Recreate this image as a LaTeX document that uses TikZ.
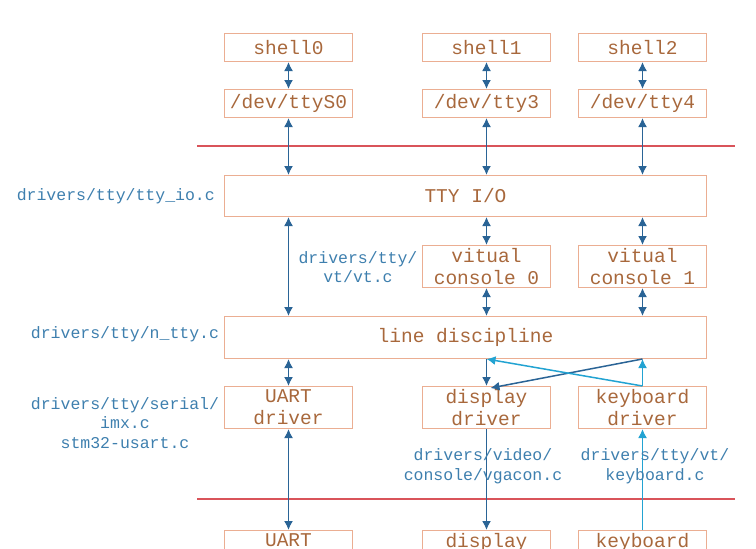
\documentclass[tikz,border=0pt]{standalone}
\usepackage{fontspec}
\setmonofont{Liberation Mono}
\usetikzlibrary{arrows.meta}
\begin{document}
\begin{tikzpicture}[x=1pt,y=-1pt,
  box/.style={draw=boxc,line width=1pt,text=txtc,font=\ttfamily\fontsize{19.5}{22}\selectfont,inner sep=0pt,align=center,anchor=north west},
  lbl/.style={text=lblc,font=\ttfamily\fontsize{16.5}{19.5}\selectfont,align=center,inner sep=0pt},
  dk/.style={draw=dkc,line width=1.5pt,-{Latex[length=9pt,width=9pt]}},
  dd/.style={draw=dkc,line width=1.5pt,{Latex[length=9pt,width=9pt]}-{Latex[length=9pt,width=9pt]}},
  lt/.style={draw=ltc,line width=1.5pt,-{Latex[length=9pt,width=9pt]}},
  redl/.style={draw=redc,line width=1.5pt}]
\definecolor{boxc}{HTML}{EBAE92}
\definecolor{txtc}{HTML}{A8683C}
\definecolor{lblc}{HTML}{3E7FAE}
\definecolor{dkc}{HTML}{2A6496}
\definecolor{ltc}{HTML}{22A3D2}
\definecolor{redc}{HTML}{D9545A}
\useasboundingbox (0,0) rectangle (756,549);
\begin{scope}
\clip (0,0) rectangle (756,549);
\node[box,minimum width=128pt,minimum height=28pt] (s0) at (224,33) {shell0};
\node[box,minimum width=128pt,minimum height=28pt] (s1) at (422,33) {shell1};
\node[box,minimum width=128pt,minimum height=28pt] (s2) at (578,33) {shell2};
\node[box,minimum width=128pt,minimum height=28pt] (d0) at (224,89) {/dev/ttyS0};
\node[box,minimum width=128pt,minimum height=28pt] (d1) at (422,89) {/dev/tty3};
\node[box,minimum width=128pt,minimum height=28pt] (d2) at (578,89) {/dev/tty4};
\node[box,minimum width=482pt,minimum height=41pt] (tty) at (224,175) {TTY I/O};
\node[box,minimum width=128pt,minimum height=42pt] (vc0) at (422,245) {vitual\\console 0};
\node[box,minimum width=128pt,minimum height=42pt] (vc1) at (578,245) {vitual\\console 1};
\node[box,minimum width=482pt,minimum height=42pt] (ld) at (224,316) {line discipline};
\node[box,minimum width=128pt,minimum height=42pt] (ud) at (224,386) {UART\\driver};
\node[box,minimum width=128pt,minimum height=42pt] (dd) at (422,386) {display\\driver};
\node[box,minimum width=128pt,minimum height=42pt] (kd) at (578,386) {keyboard\\driver};
\node[box,minimum width=128pt,minimum height=42pt] (uh) at (224,530) {UART\\};
\node[box,minimum width=128pt,minimum height=42pt] (dh) at (422,530) {display\\};
\node[box,minimum width=128pt,minimum height=42pt] (kh) at (578,530) {keyboard\\};
\draw[redl] (197,146) -- (735,146);
\draw[redl] (197,499) -- (735,499);
\draw[dd] (s0.south) -- (d0.north);
\draw[dd] (s1.south) -- (d1.north);
\draw[dd] (s2.south) -- (d2.north);
\draw[dd] (d0.south) -- (d0.south |- tty.north);
\draw[dd] (d1.south) -- (d1.south |- tty.north);
\draw[dd] (d2.south) -- (d2.south |- tty.north);
\draw[dd] (vc0.north |- tty.south) -- (vc0.north);
\draw[dd] (vc1.north |- tty.south) -- (vc1.north);
\draw[dd] (vc0.south) -- (vc0.south |- ld.north);
\draw[dd] (vc1.south) -- (vc1.south |- ld.north);
\draw[dd] (ud.north |- tty.south) -- (ud.north |- ld.north);
\draw[dd] (ud.north |- ld.south) -- (ud.north);
\draw[dd] (ud.south) -- (uh.north);
\draw[dk] (dd.north |- ld.south) -- (dd.north);
\draw[dk] (kd.north |- ld.south) -- ([xshift=4pt,yshift=-2pt]dd.north);
\draw[lt] (kd.north) -- (kd.north |- ld.south);
\draw[lt] (kd.north) -- (dd.north |- ld.south);
\draw[dk] (dd.south) -- (dh.north);
\draw[lt] (kh.north) -- (kd.south);
\node[lbl,anchor=east] (l1) at (215,196) {drivers/tty/tty\_io.c};
\node[lbl] (l2) at (358,267) {drivers/tty/\\vt/vt.c};
\node[lbl] (l3) at (125,334) {drivers/tty/n\_tty.c};
\node[lbl] (l4) at (125,423) {drivers/tty/serial/\\imx.c\\stm32-usart.c};
\node[lbl] (l5) at (483,466) {drivers/video/\\console/vgacon.c};
\node[lbl] (l6) at (655,466) {drivers/tty/vt/\\keyboard.c};
\end{scope}
\end{tikzpicture}
\end{document}
